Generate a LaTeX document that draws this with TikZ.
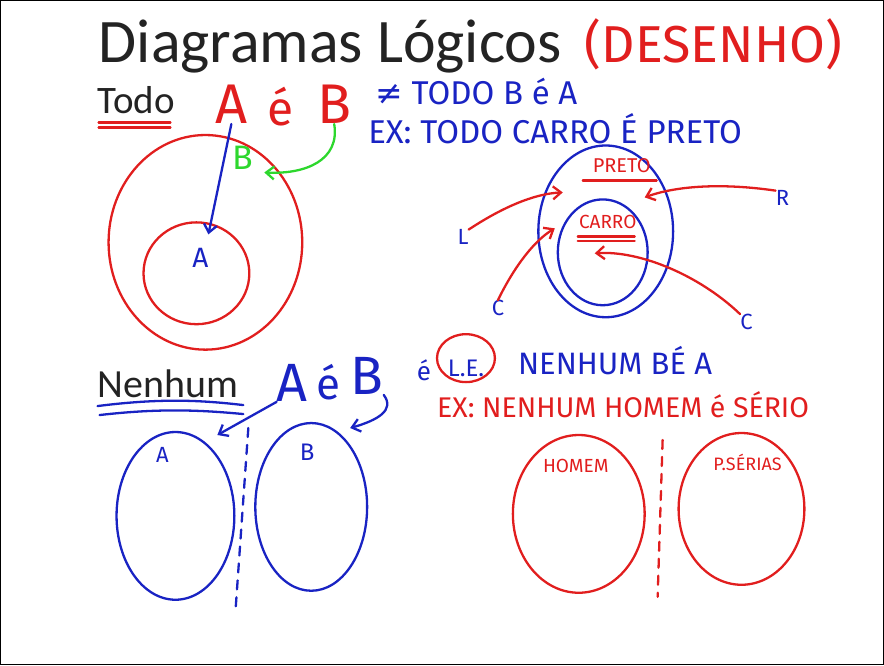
\documentclass[tikz,border=0pt]{standalone}
\usepackage{fontspec}
\setmainfont{Fira Sans}
\newfontfamily\titlefont{Carlito}
\newfontfamily\symbfont{DejaVu Sans}
\usetikzlibrary{arrows.meta, positioning, shapes.geometric}

\definecolor{penblue}{RGB}{25,35,195}
\definecolor{penred}{RGB}{225,30,30}
\definecolor{pengreen}{RGB}{45,215,45}
\definecolor{inkgray}{RGB}{35,35,35}

\tikzset{
  hand/.style={inner sep=0pt, font=\fontsize{#1}{#1}\selectfont},
  hand/.default=24,
  head/.style={inner sep=0pt, text=inkgray, font=\titlefont\fontsize{#1}{#1}\selectfont},
  pen/.style={line width=2.3pt, line cap=round},
  oval/.style={ellipse, draw, pen, inner sep=0pt},
  tip/.style={pen, -{Straight Barb[length=8pt,width=13pt]}},
}

\begin{document}
\begin{tikzpicture}[x=1pt, y=-1pt]
  \draw[line width=1.5pt] (0,0) rectangle (884,665);

  % headings
  \node[head=62, anchor=base west] (title) at (98,62) {Diagramas Lógicos};
  \node[hand=52, anchor=west, text=penred] (desenho) at (585,44) {(DESENHO)};
  \node[head=39, anchor=base west] (todo) at (97,113) {Todo};
  \draw[pen, penred] (98,122) -- (170,122) (98,127) -- (170,127);
  \node[head=40, anchor=base west] (nenhum) at (97,397) {Nenhum};
  \draw[pen, penblue] (97,406) .. controls (160,398) and (200,400) .. (243,405);
  \draw[pen, penblue] (99,415) .. controls (160,408) and (200,410) .. (243,414);

  % todo: A e B
  \node[hand=56, text=penred] (tA) at (231,104) {A};
  \node[hand=48, text=penred] (tE) at (280,106) {é};
  \node[hand=56, text=penred] (tB) at (334,104) {B};
  \node[hand=33, anchor=west, text=penblue] (ruleT) at (375,91) {{\symbfont ≠} TODO B é A};
  \node[hand=33, anchor=west, text=penblue] (exT) at (368,128) {EX: TODO CARRO É PRETO};

  \node[oval, penred, minimum width=194, minimum height=215] (outerB) at (205,242) {};
  \node[oval, penred, minimum width=106, minimum height=102] (innerA) at (196,273) {};
  \node[hand=34, text=pengreen] (lblB) at (242,157) {B};
  \node[hand=28, text=penblue] (lblA) at (200,258) {A};
  \coordinate (aimA) at (208,234);
  \coordinate (aimB) at (264,172);
  \draw[tip, penblue] (tA.south) -- (aimA);
  \draw[tip, pengreen] (tB.south) .. controls (340,160) and (305,174) .. (aimB);

  % todo: exemplo
  \node[oval, penblue, minimum width=135, minimum height=172] (preto) at (606,231) {};
  \node[oval, penblue, minimum width=90, minimum height=106] (carro) at (603,252) {};
  \node[hand=20, text=penred] (lblP) at (622,165) {PRETO};
  \draw[pen, penred] (583,180) -- (657,180);
  \node[hand=19, text=penred] (lblC) at (608,222) {CARRO};
  \draw[pen, penred] (578,236) -- (635,236) (578,241) -- (635,241);
  \node[hand=22, text=penblue] (pL) at (463,237) {L};
  \node[hand=22, text=penblue] (pR) at (783,198) {R};
  \node[hand=22, text=penblue] (pC1) at (498,308) {C};
  \node[hand=22, text=penblue] (pC2) at (747,322) {C};
  \coordinate (inP1) at (563,192);
  \coordinate (inP2) at (645,197);
  \coordinate (inC1) at (555,228);
  \coordinate (inC2) at (595,253);
  \draw[tip, penred] (pL.north east) .. controls (510,202) and (540,193) .. (inP1);
  \draw[tip, penred] (pR.north west) .. controls (720,182) and (675,186) .. (inP2);
  \draw[tip, penred] (pC1.north) .. controls (515,265) and (535,240) .. (inC1);
  \draw[tip, penred] (pC2.north west) .. controls (700,275) and (640,250) .. (inC2);

  % nenhum: A e B
  \node[hand=54, text=penblue] (nA) at (292,383) {A};
  \node[hand=44, text=penblue] (nE) at (328,382) {é};
  \node[hand=54, text=penblue] (nB) at (367,376) {B};
  \node[oval, penblue, minimum width=118, minimum height=168] (ellA) at (175,516) {};
  \node[oval, penblue, minimum width=112, minimum height=168] (ellB) at (311,507) {};
  \node[hand=22, text=penblue] (lblnA) at (162,455) {A};
  \node[hand=24, text=penblue] (lblnB) at (307,452) {B};
  \coordinate (inA) at (217,435);
  \coordinate (inB) at (350,428);
  \draw[tip, penblue] (nA.south west) -- (inA);
  \draw[tip, penblue] (nB.south east) .. controls (395,410) and (378,420) .. (inB);
  \draw[pen, penblue, dash pattern=on 9pt off 8pt] (248,428) -- (235,613);

  % nenhum: exemplo
  \node[hand=26, text=penblue] (nE2) at (424,370) {é};
  \node[hand=24, text=penblue] (le) at (466,368) {L.E.};
  \node[oval, penred, minimum width=58, minimum height=48] (leRing) at (466,358) {};
  \node[hand=31, anchor=west, text=penblue] (ruleN) at (518,360) {NENHUM BÉ A};
  \node[hand=28.5, anchor=west, text=penred] (exN) at (437,405) {EX: NENHUM HOMEM é SÉRIO};
  \node[oval, penred, minimum width=132, minimum height=158] (homem) at (579,514) {};
  \node[oval, penred, minimum width=126, minimum height=152] (serias) at (742,509) {};
  \node[hand=19, text=penred] (lblH) at (576,466) {HOMEM};
  \node[hand=18, text=penred] (lblS) at (748,462) {P.SÉRIAS};
  \draw[pen, penred, dash pattern=on 9pt off 8pt] (663,440) -- (658,597);
\end{tikzpicture}
\end{document}
